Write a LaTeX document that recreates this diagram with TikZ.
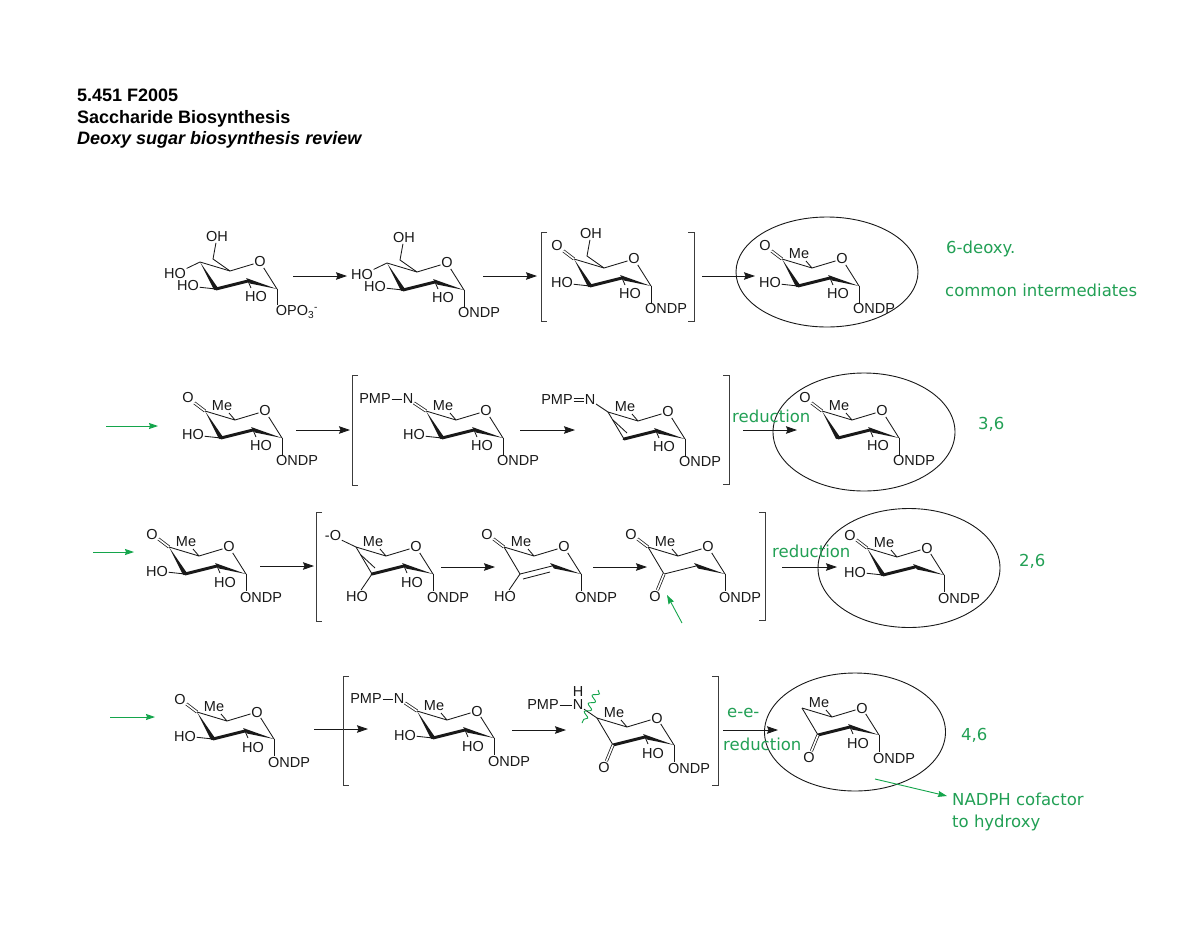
\documentclass[tikz,border=0pt]{standalone}
\usepackage{fontspec}
\setmainfont{Liberation Sans}
\newfontfamily\greenfont{DejaVu Sans}
\usetikzlibrary{arrows.meta,shapes.geometric,decorations.pathmorphing}
\definecolor{gtext}{RGB}{34,160,85}
\definecolor{garrow}{RGB}{20,165,75}
\definecolor{ink}{RGB}{25,25,25}
\tikzset{
  atom/.style={inner sep=0.6pt,text=ink,font=\fontsize{14.5}{16}\selectfont},
  bond/.style={draw=ink,line width=0.85pt},
  dblbond/.style={draw=ink,line width=0.75pt,double,double distance=1.6pt},
  hvy/.style={draw=ink,line width=3pt,line cap=round},
  rxn/.style={draw=ink,line width=0.85pt,-{Stealth[length=11pt,width=7.5pt,inset=1.5pt]}},
  grxn/.style={draw=garrow,line width=0.9pt,-{Stealth[length=9pt,width=6pt,inset=1pt]}},
  brk/.style={draw=ink!85,line width=1pt},
  circled/.style={ellipse,draw=ink,line width=0.9pt,inner sep=0pt},
  gnote/.style={anchor=base west,inner sep=0pt,text=gtext,font=\greenfont\fontsize{16.5}{18}\selectfont},
  head/.style={anchor=base west,inner sep=0pt,text=black,font=\bfseries\fontsize{18}{20}\selectfont},
}
\newcommand\sugar[4]{\begin{scope}[shift={(#2,#3)}]\def\molid{#1}%
  \coordinate (c3) at (0,0);\coordinate (c4) at (-16,-27);\coordinate (c5) at (14,-18);
  \coordinate (c1) at (61,0);\coordinate (c2) at (32,-8);
  \node[atom] (\molid-O) at (44,-27) {O};
  \draw[bond] (c4)--(c5)--(\molid-O)--(c1);
  #4\end{scope}}
\newcommand\wedgeA{\fill[ink] (c4)--(1.9,-1.1)--(-1.9,1.1)--cycle;}
\newcommand\thinA{\draw[bond] (c4)--(c3);}
\newcommand\thickB{\draw[hvy] (c3)--(c2);}
\newcommand\thinB{\draw[bond] (c3)--(c2);}
\newcommand\wedgeC{\fill[ink] (30,-11)--(34,-5.5)--(c1)--cycle;}
\newcommand\hoThree{\node[atom] (\molid-h3) at (-28,-3) {HO};\draw[bond] (\molid-h3)--(c3);}
\newcommand\hoFour{\node[atom] (\molid-h4) at (-41,-15) {HO};\draw[bond] (\molid-h4)--(c4);}
\newcommand\hoTwo{\node[atom] (\molid-h2) at (40,8) {HO};\draw[bond] (c2)--(35,-1);}
\newcommand\ondp{\node[atom] (\molid-sub) at (76,23) {ONDP};\draw[bond] (c1)--(c1 |- \molid-sub.north);}
\newcommand\meth{\node[atom] (\molid-me) at (1,-32) {Me};\draw[bond] (c5)--(8,-25);}
\newcommand\keto{\node[atom] (\molid-ko) at (-33,-40) {O};\draw[dblbond] (c4)--(\molid-ko);}
\newcommand\hoh{\node[atom] (\molid-oh) at (1,-52) {OH};\coordinate (c6) at (-3,-30);\draw[bond] (c5)--(c6)--(\molid-oh);}
\newcommand\hoLow{\node[atom] (\molid-hl) at (-15,22) {HO};\draw[bond] (c3)--(\molid-hl);}
\newcommand\ketoLow{\node[atom] (\molid-kl) at (-9,22) {O};\draw[dblbond] (c3)--(\molid-kl);}
\newcommand\innerA{\draw[bond] (-11,-19)--(3,-6);}
\newcommand\pmpN{\node[atom] (\molid-N) at (-34,-39) {N};\node[atom] (\molid-P) at (-67,-39) {PMP};\draw[bond] (\molid-P)--(\molid-N);\draw[dblbond] (c4)--(\molid-N);}
\newcommand\rxnarrow[5][rxn]{\coordinate (#2-s) at (#3,#5);\coordinate (#2-e) at (#4,#5);\draw[#1] (#2-s)--(#2-e);}
\newcommand\bracket[4]{\draw[brk] (#2+#1,#3)--(#2,#3)--(#2,#4)--(#2+#1,#4);}
\begin{document}
\begin{tikzpicture}[x=1pt,y=-1pt]
\useasboundingbox (0,0) rectangle (1200,927);
\fill[white] (0,0) rectangle (1200,927);
% heading
\node[head] (t1) at (77,101) {5.451 F2005};
\node[head] (t2) at (77,123) {Saccharide Biosynthesis};
\node[head,font=\bfseries\itshape\fontsize{18}{20}\selectfont] (t3) at (77,144) {Deoxy sugar biosynthesis review};
% circles
\node[circled,minimum width=182pt,minimum height=110pt] (e1) at (827,272) {};
\node[circled,minimum width=182pt,minimum height=118pt] (e2) at (864,432) {};
\node[circled,minimum width=182pt,minimum height=119pt] (e3) at (909,568) {};
\node[circled,minimum width=181pt,minimum height=118pt] (e4) at (855,732) {};
% row 1
\sugar{m1}{216}{289}{\wedgeA\thickB\wedgeC\hoh\hoFour\hoThree\hoTwo
  \node[atom] (m1-sub) at (81,23) {OPO\textsubscript{3}\textsuperscript{-}};\draw[bond] (c1)--(c1 |- m1-sub.north);}
\sugar{m2}{403}{290}{\wedgeA\thickB\wedgeC\hoh\hoFour\hoThree\hoTwo\ondp}
\sugar{m3}{590}{286}{\wedgeA\thickB\wedgeC\hoh\keto\hoThree\hoTwo\ondp}
\sugar{m4}{798}{286}{\wedgeA\thickB\wedgeC\meth\keto\hoThree\hoTwo\ondp}
% row 2
\sugar{m5}{221}{438}{\wedgeA\thickB\wedgeC\meth\keto\hoThree\hoTwo\ondp}
\sugar{m6}{442}{438}{\wedgeA\thickB\wedgeC\meth\pmpN\hoThree\hoTwo\ondp}
\sugar{m7}{624}{439}{\thinA\innerA\thickB\wedgeC\meth\hoTwo\ondp
  \node[atom] (m7-N) at (-34,-39) {N};\node[atom] (m7-P) at (-67,-39) {PMP};
  \draw[bond] ([yshift=1.3pt]m7-P.east)--([yshift=1.3pt]m7-N.west);
  \draw[bond] ([yshift=-1.3pt]m7-P.east)--([yshift=-1.3pt]m7-N.west);
  \draw[bond] (m7-N)--(c4);}
\sugar{m8}{838}{438}{\wedgeA\thickB\wedgeC\meth\keto\hoTwo\ondp}
% row 3
\sugar{m9}{185}{574}{\wedgeA\thickB\wedgeC\meth\keto\hoThree\hoTwo\ondp}
\sugar{m10}{372}{574}{\thinA\innerA\thickB\wedgeC\meth\hoLow\hoTwo\ondp
  \node[atom] (m10-ko) at (-39,-38) {-O};\draw[bond] (m10-ko)--(c4);}
\sugar{m11}{520}{574}{\thinA\thinB\wedgeC\meth\keto\hoLow\ondp\draw[bond] (3,5)--(30,-2);}
\sugar{m12}{664}{574}{\thinA\thinB\wedgeC\meth\keto\ketoLow\ondp}
\sugar{m13}{883}{575}{\wedgeA\thickB\wedgeC\meth\keto\hoThree\ondp}
% row 4
\sugar{m14}{213}{739}{\wedgeA\thickB\wedgeC\meth\keto\hoThree\hoTwo\ondp}
\sugar{m15}{433}{738}{\wedgeA\thickB\wedgeC\meth\pmpN\hoThree\hoTwo\ondp}
\sugar{m16}{613}{745}{\thinA\thickB\wedgeC\meth\ketoLow\hoTwo\ondp
  \node[atom] (m16-N) at (-35,-40) {N};\node[atom] (m16-H) at (-35,-53) {H};\node[atom] (m16-P) at (-70,-40) {PMP};
  \draw[bond] (m16-P)--(m16-N);\draw[bond] (m16-N)--(c4);}
\sugar{m17}{818}{735}{\thinA\thickB\wedgeC\meth\ketoLow\hoTwo\ondp}
% reaction arrows
\rxnarrow{a1}{293}{347}{276}
\rxnarrow{a2}{483}{537}{276}
\rxnarrow{a3}{702}{755}{276}
\rxnarrow{b1}{296}{350}{430}
\rxnarrow{b2}{520}{575}{430}
\rxnarrow{b3}{743}{797}{430}
\rxnarrow{c1a}{260}{314}{566}
\rxnarrow{c2a}{441}{495}{567}
\rxnarrow{c3a}{593}{647}{567}
\rxnarrow{c4a}{782}{837}{567}
\rxnarrow{d1}{314}{368}{729}
\rxnarrow{d2}{512}{566}{730}
\rxnarrow{d3}{723}{778}{730}
% brackets
\bracket{6}{541}{232}{321}
\bracket{-6}{694}{232}{321}
\bracket{6}{352}{375}{485}
\bracket{-6}{729}{375}{484}
\bracket{6}{316}{512}{621}
\bracket{-6}{765}{512}{620}
\bracket{6}{343}{676}{785}
\bracket{-6}{718}{676}{785}
% green arrows
\rxnarrow[grxn]{g1}{106}{158}{426}
\rxnarrow[grxn]{g2}{93}{134}{552}
\rxnarrow[grxn]{g3}{110}{155}{717}
\coordinate (g4s) at (682,623);\coordinate (g4e) at (667,595);
\draw[grxn] (g4s)--(g4e);
\coordinate (g5s) at (875,779);\coordinate (g5e) at (947,796);
\draw[grxn] (g5s)--(g5e);
\coordinate (w1) at (598,690);\coordinate (w2) at (582,723);
\draw[draw=garrow,line width=0.9pt,decorate,decoration={snake,segment length=9pt,amplitude=3pt}] (w1)--(w2);
% green notes
\node[gnote] (n1) at (946,253) {6-deoxy.};
\node[gnote] (n2) at (945,296) {common intermediates};
\node[gnote] (n3) at (732,422) {reduction};
\node[gnote] (n4) at (978,429) {3,6};
\node[gnote] (n5) at (772,557) {reduction};
\node[gnote] (n6) at (1019,566) {2,6};
\node[gnote] (n7) at (727,717) {e-e-};
\node[gnote] (n8) at (723,750) {reduction};
\node[gnote] (n9) at (961,740) {4,6};
\node[gnote] (n10) at (952,805) {NADPH cofactor};
\node[gnote] (n11) at (952,827) {to hydroxy};
\end{tikzpicture}
\end{document}
